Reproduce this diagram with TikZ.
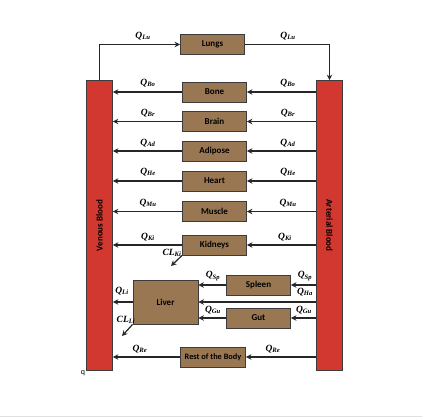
\documentclass[tikz,border=0pt]{standalone}
\usepackage{amsmath}
\usepackage{amssymb}
\usepackage{fontspec}
\setmainfont{Carlito}
\newfontfamily\ratefont{Liberation Serif}
\usetikzlibrary{positioning,arrows.meta}

\definecolor{organbrown}{RGB}{153,119,82}
\definecolor{bloodred}{RGB}{210,56,48}
\definecolor{edgegray}{RGB}{60,60,60}
\newcommand{\qflow}[1]{{\ratefont\bfseries\itshape Q\textsubscript{#1}}}
\newcommand{\clflow}[1]{{\ratefont\bfseries\itshape CL\textsubscript{#1}}}

\begin{document}
\begin{tikzpicture} [x=1pt,y=-1pt,
	organ/.style={
		rectangle,draw=edgegray,fill=organbrown,line width=0.9pt,
		minimum width=64pt,minimum height=20pt,inner sep=1pt,
		font=\fontsize{9}{10}\selectfont\bfseries},
	blood/.style={
		rectangle,draw=edgegray,fill=bloodred,line width=0.7pt,
		minimum width=26pt,minimum height=290pt,inner sep=0pt,
		font=\fontsize{9}{10}\selectfont\bfseries},
	rate/.style={inner sep=0pt,font=\fontsize{9.5}{10}\selectfont},
	flowarrow/.style={
		-{Stealth[length=5.5pt,width=5.5pt]},line width=1.2pt,draw=black!85}]
\useasboundingbox (0,0) rectangle (422,417);
% blood pools
\node[blood] (venous) 		at (99.5,225.5) {\rotatebox{90}{Venous Blood}};
\node[blood] (arterial) 	at (329.5,225.5) {\rotatebox{-90}{Arterial Blood}};
% organs
\node[organ] (lungs) 		at (212.5,44.5) {Lungs};
\node[organ] (bone) 		at (214.5,92) {Bone};
\node[organ] (brain) 		at (214.5,121.5) {Brain};
\node[organ] (adipose) 		at (214.5,151) {Adipose};
\node[organ] (heart) 		at (214.5,181) {Heart};
\node[organ] (muscle) 		at (214.5,211.5) {Muscle};
\node[organ] (kidneys) 		at (214.5,245) {Kidneys};
\node[organ] (spleen) 		at (258.5,285) {Spleen};
\node[organ,minimum height=44pt,minimum width=65pt] (liver) at (165.5,302) {Liver};
\node[organ] (gut) 		at (258.5,318) {Gut};
\node[organ,minimum width=65pt,font=\fontsize{8.3}{10}\selectfont\bfseries] (rest) at (213,357) {Rest of the Body};
% lungs loop
\draw[flowarrow] (venous.north) |- (lungs.west);
\draw[flowarrow] (lungs.east) -| (arterial.north);
% arterial to organ to venous
\foreach \organ in {bone,brain,adipose,heart,muscle,kidneys,rest}{
	\draw[flowarrow] (\organ.east -| arterial.west) -- (\organ.east);
	\draw[flowarrow] (\organ.west) -- (\organ.west -| venous.east);
}
% splanchnic
\draw[flowarrow] (spleen.east -| arterial.west) -- (spleen.east);
\draw[flowarrow] (gut.east -| arterial.west) -- (gut.east);
\draw[flowarrow] (liver.east -| arterial.west) -- (liver.east);
\draw[flowarrow] (spleen.west) -- (spleen.west -| liver.east);
\draw[flowarrow] (gut.west) -- (gut.west -| liver.east);
\draw[flowarrow] (liver.west) -- (liver.west -| venous.east);
% clearance
\coordinate (ki out) at (171,266);
\coordinate (li out) at (122,336);
\draw[flowarrow] (kidneys.south west) -- (ki out);
\draw[flowarrow] (liver.south west) -- (li out);
% flow labels
\node[rate] (q lu l) 	at (143,36) {\qflow{Lu}};
\node[rate] (q lu r) 	at (288,36) {\qflow{Lu}};
\node[rate] (q bo l) 	at (148,83) {\qflow{Bo}};
\node[rate] (q bo r) 	at (288,83) {\qflow{Bo}};
\node[rate] (q br l) 	at (148,113) {\qflow{Br}};
\node[rate] (q br r) 	at (288,113) {\qflow{Br}};
\node[rate] (q ad l) 	at (148,143) {\qflow{Ad}};
\node[rate] (q ad r) 	at (288,143) {\qflow{Ad}};
\node[rate] (q he l) 	at (148,172) {\qflow{He}};
\node[rate] (q he r) 	at (288,172) {\qflow{He}};
\node[rate] (q mu l) 	at (148,203) {\qflow{Mu}};
\node[rate] (q mu r) 	at (288,203) {\qflow{Mu}};
\node[rate] (q ki l) 	at (148,237) {\qflow{Ki}};
\node[rate] (q ki r) 	at (285,237) {\qflow{Ki}};
\node[rate] (cl ki) 	at (172,253) {\clflow{Ki}};
\node[rate] (q sp l) 	at (213,276) {\qflow{Sp}};
\node[rate] (q sp r) 	at (305,276) {\qflow{Sp}};
\node[rate] (q ha) 	at (305,292) {\qflow{Ha}};
\node[rate] (q gu l) 	at (213,310) {\qflow{Gu}};
\node[rate] (q gu r) 	at (304,310) {\qflow{Gu}};
\node[rate] (q li) 	at (122,291) {\qflow{Li}};
\node[rate] (cl li) 	at (126,320) {\clflow{Li}};
\node[rate] (q re l) 	at (140,349) {\qflow{Re}};
\node[rate] (q re r) 	at (273,349) {\qflow{Re}};
\node[inner sep=0pt,font=\fontsize{8}{9}\selectfont] (q mark) at (83,373) {q};
\draw[black!12,line width=1pt] (0,416.5) -- (422,416.5);
\end{tikzpicture}
\end{document}
